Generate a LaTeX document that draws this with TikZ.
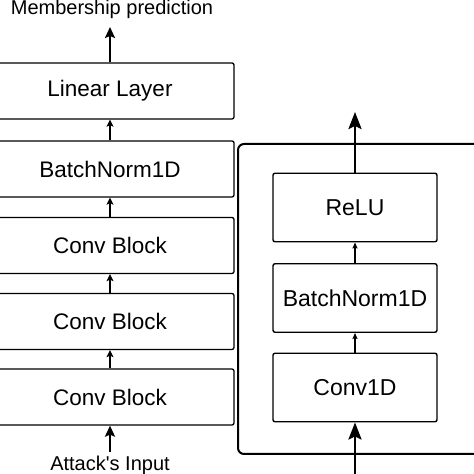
\documentclass[tikz,border=0pt]{standalone}
\usepackage{fontspec}
\setmainfont{Liberation Sans}
\newfontfamily\plainsans{Liberation Sans}
\usetikzlibrary{arrows.meta}
\tikzset{
  lbox/.style={draw, line width=1.3pt, rounded corners=2pt, minimum width=248pt, minimum height=56pt, inner sep=0pt, font=\fontsize{22.5}{26}\selectfont},
  rbox/.style={draw, line width=1.4pt, rounded corners=2pt, minimum width=164pt, minimum height=68.5pt, inner sep=0pt, font=\fontsize{23}{27}\selectfont},
  lbl/.style={font=\plainsans\fontsize{20}{24}\selectfont, inner sep=0pt, anchor=base},
  smallarr/.style={line width=1.6pt, -{Stealth[length=7pt,width=7pt,inset=1.5pt]}},
  tinyarr/.style={line width=1.3pt, -{Stealth[length=6pt,width=5pt,inset=1pt]}},
  bigarr/.style={line width=2pt, -{Stealth[length=11pt,width=10pt,inset=2pt]}},
  hugearr/.style={line width=2.6pt, -{Stealth[length=17pt,width=13pt,inset=3pt]}},
  outer/.style={draw, line width=2pt, rounded corners=6pt}
}
\begin{document}
\begin{tikzpicture}[x=1pt,y=1pt]
\useasboundingbox (0,0) rectangle (474,474);
\clip (0,0) rectangle (474,474);
% left column
\node[lbox] (lin) at (110,383) {Linear Layer};
\node[lbox] (bn)  at (110,305) {BatchNorm1D};
\node[lbox] (cb1) at (110,228.5) {Conv Block};
\node[lbox] (cb2) at (110,152.5) {Conv Block};
\node[lbox] (cb3) at (110,77) {Conv Block};
\node[lbl] (mp) at (112,459) {Membership prediction};
\node[lbl] (ai) at (110,4) {Attack's Input};
\coordinate (mptip) at (110,447);
\coordinate (aibase) at (110,22);
\draw[bigarr] (lin.north) -- (mptip);
\draw[smallarr] (bn.north) -- (lin.south);
\draw[smallarr] (cb1.north) -- (bn.south);
\draw[smallarr] (cb2.north) -- (cb1.south);
\draw[smallarr] (cb3.north) -- (cb2.south);
\draw[bigarr] (aibase) -- (cb3.south);
% right panel
\draw[outer] (238,20) rectangle (490,330);
\node[rbox] (relu) at (355,266.5) {ReLU};
\node[rbox] (rbn)  at (355,176) {BatchNorm1D};
\node[rbox] (conv) at (355,86.5) {Conv1D};
\coordinate (rtop) at (355,362);
\coordinate (rbot) at (355,-5);
\draw[hugearr] (relu.north) -- (rtop);
\draw[tinyarr] (rbn.north) -- (relu.south);
\draw[tinyarr] (conv.north) -- (rbn.south);
\draw[hugearr] (rbot) -- (conv.south);
\end{tikzpicture}
\end{document}
